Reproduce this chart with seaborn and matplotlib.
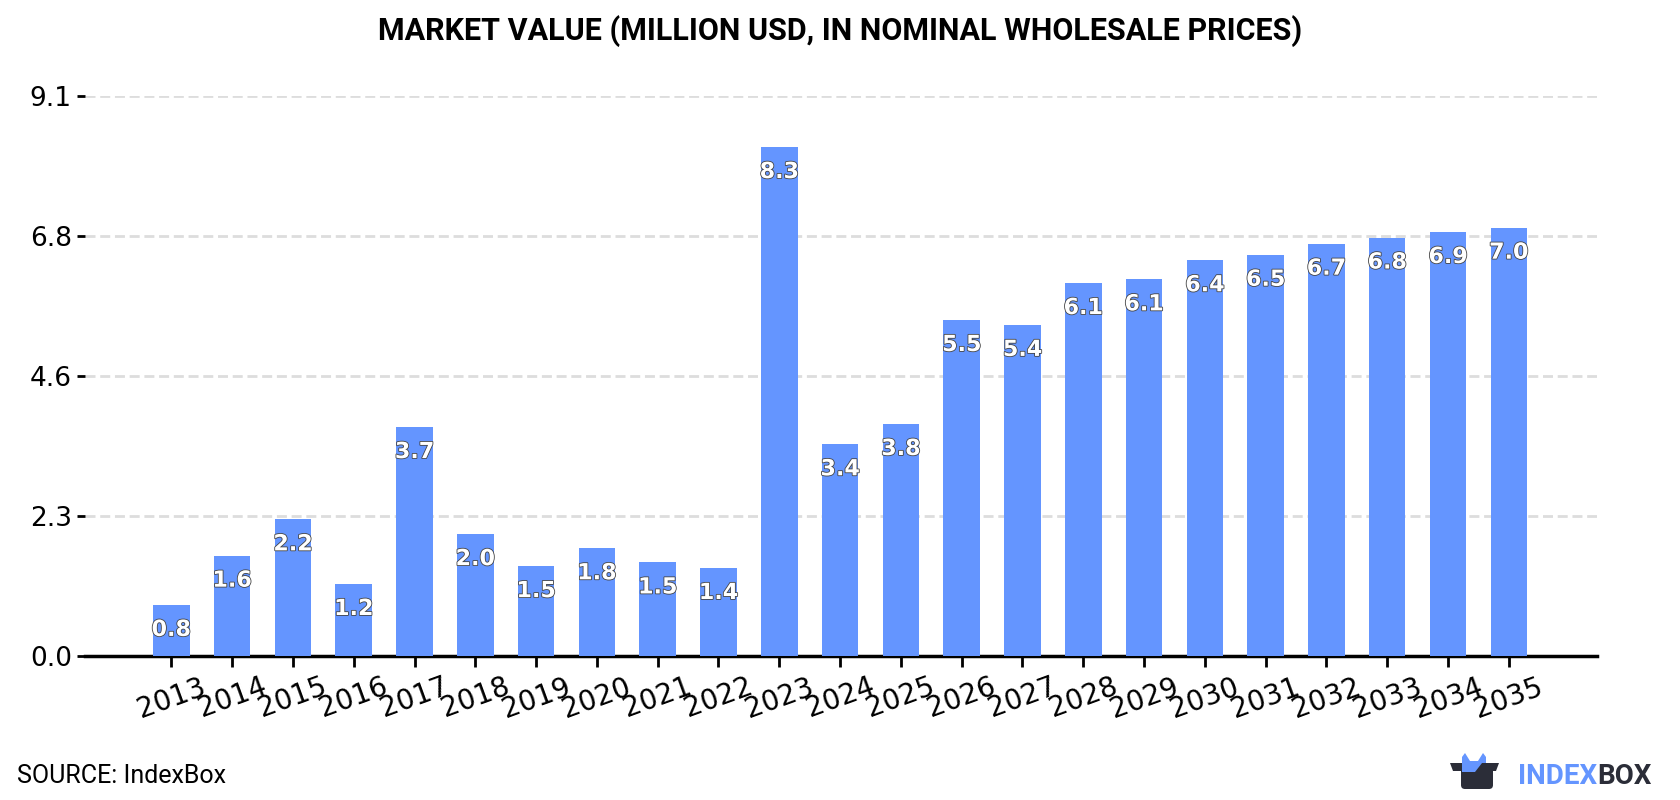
import matplotlib
matplotlib.use("Agg")
import matplotlib.pyplot as plt
import matplotlib.patheffects as pe
from matplotlib.patches import Polygon, FancyBboxPatch
import pandas as pd
import seaborn as sns

years = list(range(2013, 2036))
values = [0.83, 1.63, 2.22, 1.17, 3.72, 1.98, 1.46, 1.75, 1.52, 1.43, 8.27, 3.44,
          3.77, 5.46, 5.38, 6.06, 6.12, 6.43, 6.52, 6.70, 6.80, 6.89, 6.96]
y_ticks = [0.0, 2.275, 4.55, 6.825, 9.1]
y_tick_labels = ["0.0", "2.3", "4.6", "6.8", "9.1"]
title = "MARKET VALUE (MILLION USD, IN NOMINAL WHOLESALE PRICES)"
source = "SOURCE: IndexBox"

BAR = "#6495FF"
DARK = "#2B2D38"
W, H = 1680, 800

sns.set_theme(style="white")
plt.rcParams["font.family"] = ["DejaVu Sans"]

df = pd.DataFrame({"year": years, "value": values})
fig = plt.figure(figsize=(W / 100, H / 100), dpi=100, facecolor="white")
ax = fig.add_axes([85 / W, 1 - 656 / H, (1597 - 85) / W, (656 - 96) / H])

sns.barplot(data=df, x="year", y="value", color=BAR, saturation=1, width=0.6,
            linewidth=0, edgecolor="none", ax=ax, zorder=3)

ax.set_xlim(-1.42, 23.45)
ax.set_ylim(0, 9.1)
ax.set_xlabel("")
ax.set_ylabel("")
ax.set_yticks(y_ticks, y_tick_labels)
ax.grid(axis="y", color="#DDDDDD", linewidth=2, linestyle=(0, (3.6, 1.7)), zorder=0)
ax.set_axisbelow(True)
ax.tick_params(axis="y", length=6, width=2, color="black", labelsize=19, labelcolor="black", pad=3.5, left=True)
ax.tick_params(axis="x", length=8, width=2, color="black", labelsize=20, labelcolor="black", pad=4, bottom=True)
for lab in ax.get_xticklabels():
    lab.set_rotation(20)
    lab.set_ha("center")
for side in ("top", "left", "right"):
    ax.spines[side].set_visible(False)
ax.spines["bottom"].set_color("black")
ax.spines["bottom"].set_linewidth(2.5)

# Value labels sit just under the top of each bar
for i, v in enumerate(values):
    ax.annotate(f"{v:.1f}", (i, v), xytext=(0, -18), textcoords="offset points",
                ha="center", va="center", color="white", fontsize=16, fontweight="bold",
                zorder=5, path_effects=[pe.withStroke(linewidth=1.2, foreground="#444444")])

fig.text(0.5, 1 - 31 / H, title, ha="center", va="center", fontsize=22,
         fontweight="bold", family="Roboto", color="black")
fig.text(17 / W, 1 - 776 / H, source, ha="left", va="center", fontsize=18,
         family="Roboto", color="black")

# IndexBox wordmark and box icon in the lower right corner
logo = fig.add_axes([0, 0, 1, 1], facecolor="none")
logo.set_xlim(0, W)
logo.set_ylim(H, 0)
logo.axis("off")
logo.add_patch(FancyBboxPatch((1461, 766), 32, 23, boxstyle="round,pad=0,rounding_size=4", color=DARK, lw=0))
logo.add_patch(Polygon([(1450, 763), (1499, 763), (1496, 771), (1453, 771)], color=DARK, lw=0))
logo.add_patch(Polygon([(1462, 772), (1462, 757), (1465, 753), (1470, 761), (1478, 761), (1483, 753),
                        (1486, 757), (1486, 763), (1482, 763), (1475, 772)], color=BAR, lw=0))
logo.text(1597, 776, "INDEX", ha="right", va="center", fontsize=20, fontweight="bold",
          family="Roboto", color=BAR)
logo.text(1597, 776, "BOX", ha="left", va="center", fontsize=20, fontweight="bold",
          family="Roboto", color=DARK)

fig.savefig("out.png", dpi=100)
